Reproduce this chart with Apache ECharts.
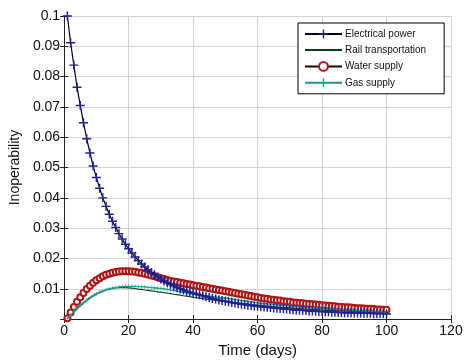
<!DOCTYPE html>
<html><head><meta charset="utf-8">
<script src="https://cdn.jsdelivr.net/npm/echarts@6/dist/echarts.min.js"></script>
<style>html,body{margin:0;padding:0;background:#fff}#c{width:474px;height:363px}</style>
</head><body><div id="c"></div>
<script>
const days = [];
for (let d = 1; d <= 100; d++) days.push(d);
const xTicks = [0, 20, 40, 60, 80, 100, 120];
const yTicks = [0.01, 0.02, 0.03, 0.04, 0.05, 0.06, 0.07, 0.08, 0.09, 0.1];
const seriesNames = ['Electrical power', 'Rail transportation', 'Water supply', 'Gas supply'];

const electrical = [0.1,0.0912,0.0838,0.0765,0.0705,0.0648,0.0595,0.0548,0.0505,0.0467,
0.0432,0.0400,0.0372,0.0346,0.0323,0.0302,0.0282,0.0264,0.0247,0.0232,
0.0218,0.0205,0.0193,0.0182,0.0172,0.0163,0.0154,0.0146,0.0139,0.0132,
0.0126,0.0120,0.0114,0.0109,0.0104,0.0100,0.0096,0.0092,0.0089,0.0086,
0.0083,0.0080,0.0077,0.0074,0.0071,0.0068,0.0066,0.0063,0.0061,0.0059,
0.0057,0.0055,0.0053,0.0051,0.0049,0.0048,0.0046,0.0045,0.0043,0.0042,
0.0041,0.0040,0.0039,0.0038,0.0037,0.0036,0.0035,0.0034,0.0033,0.0032,
0.0031,0.0030,0.0029,0.0029,0.0028,0.0027,0.0027,0.0026,0.0025,0.0025,
0.0024,0.0024,0.0023,0.0023,0.0022,0.0022,0.0021,0.0021,0.0021,0.0020,
0.0020,0.0020,0.0019,0.0019,0.0019,0.0018,0.0018,0.0018,0.0018,0.0017];

const rail = [0.0002,0.0012,0.0023,0.0034,0.0044,0.0053,0.0061,0.0069,0.0076,0.0082,
0.0087,0.0092,0.0096,0.0099,0.0101,0.0103,0.0104,0.0104,0.0104,0.0103,
0.0102,0.0101,0.0099,0.0098,0.0096,0.0095,0.0093,0.0092,0.0090,0.0089,
0.0087,0.0086,0.0084,0.0082,0.0081,0.0079,0.0077,0.0076,0.0074,0.0072,
0.0071,0.0069,0.0068,0.0066,0.0065,0.0063,0.0062,0.0061,0.0059,0.0058,
0.0057,0.0055,0.0054,0.0053,0.0052,0.0051,0.0050,0.0048,0.0047,0.0046,
0.0045,0.0044,0.0043,0.0042,0.0041,0.0040,0.0039,0.0039,0.0038,0.0037,
0.0036,0.0035,0.0035,0.0034,0.0033,0.0033,0.0032,0.0031,0.0031,0.0030,
0.0029,0.0029,0.0028,0.0028,0.0027,0.0027,0.0026,0.0026,0.0025,0.0025,
0.0024,0.0024,0.0024,0.0023,0.0023,0.0022,0.0022,0.0022,0.0021,0.0021];

const water = [0.0003,0.0022,0.0040,0.0057,0.0072,0.0086,0.0099,0.0110,0.0120,0.0128,
0.0135,0.0141,0.0146,0.0150,0.0153,0.0155,0.0157,0.0158,0.0158,0.0158,
0.0157,0.0156,0.0154,0.0152,0.0150,0.0147,0.0144,0.0141,0.0138,0.0135,
0.0132,0.0129,0.0126,0.0124,0.0122,0.0120,0.0118,0.0116,0.0114,0.0112,
0.0110,0.0108,0.0106,0.0104,0.0102,0.0100,0.0098,0.0096,0.0094,0.0092,
0.0090,0.0088,0.0086,0.0084,0.0082,0.0080,0.0078,0.0076,0.0074,0.0072,
0.0070,0.0068,0.0067,0.0065,0.0064,0.0062,0.0061,0.0059,0.0058,0.0057,
0.0055,0.0054,0.0053,0.0052,0.0051,0.0050,0.0049,0.0048,0.0047,0.0046,
0.0045,0.0044,0.0043,0.0042,0.0041,0.0040,0.0039,0.0039,0.0038,0.0037,
0.0036,0.0036,0.0035,0.0034,0.0034,0.0033,0.0032,0.0032,0.0031,0.0031];

const gas = [0.0002,0.0013,0.0025,0.0036,0.0046,0.0055,0.0063,0.0071,0.0078,0.0084,
0.0089,0.0093,0.0097,0.0100,0.0102,0.0104,0.0106,0.0107,0.0108,0.0108,
0.0108,0.0108,0.0107,0.0107,0.0106,0.0105,0.0104,0.0103,0.0102,0.0101,
0.0100,0.0098,0.0096,0.0094,0.0092,0.0090,0.0088,0.0086,0.0084,0.0082,
0.0081,0.0080,0.0078,0.0077,0.0076,0.0074,0.0073,0.0071,0.0070,0.0069,
0.0068,0.0066,0.0065,0.0063,0.0062,0.0060,0.0059,0.0057,0.0055,0.0054,
0.0052,0.0051,0.0050,0.0049,0.0048,0.0047,0.0046,0.0045,0.0044,0.0043,
0.0042,0.0041,0.0040,0.0039,0.0039,0.0038,0.0037,0.0037,0.0036,0.0035,
0.0035,0.0034,0.0033,0.0033,0.0032,0.0031,0.0031,0.0030,0.0030,0.0029,
0.0028,0.0028,0.0027,0.0027,0.0026,0.0026,0.0025,0.0025,0.0024,0.0024];

function pairs(vals) { return vals.map((v, i) => [days[i], v]); }

const starPath = 'path://M-0.8,-5 L0.8,-5 L0.8,-0.8 L5,-0.8 L5,0.8 L0.8,0.8 L0.8,5 L-0.8,5 L-0.8,0.8 L-5,0.8 L-5,-0.8 L-0.8,-0.8 Z';
const FONT = 'Liberation Sans, Arial, sans-serif';

const chart = echarts.init(document.getElementById('c'), null, {renderer: 'canvas'});
const axisLineStyle = {color: '#222', width: 1};
chart.setOption({
  animation: false,
  backgroundColor: '#fff',
  grid: {left: 58, right: 23, top: 16, bottom: 39, containLabel: false},
  legend: {
    orient: 'vertical', left: 298, top: 23,
    data: [
      {name: seriesNames[0]},
      {name: seriesNames[1], itemStyle: {opacity: 0}},
      {name: seriesNames[2]},
      {name: seriesNames[3]}
    ],
    backgroundColor: '#fff', borderColor: '#000', borderWidth: 1,
    padding: [6, 18, 6, 6], itemGap: 6, itemWidth: 37, itemHeight: 11,
    textStyle: {fontFamily: FONT, fontSize: 10, color: '#111', padding: [0, 0, 0, -2]}
  },
  xAxis: [{
    type: 'value', min: 0, max: 120, interval: 20, position: 'bottom',
    name: 'Time (days)', nameLocation: 'middle', nameGap: 21,
    nameTextStyle: {fontFamily: FONT, fontSize: 15, color: '#111'},
    axisLine: {lineStyle: axisLineStyle},
    axisTick: {inside: true, length: 4, lineStyle: axisLineStyle},
    axisLabel: {fontFamily: FONT, fontSize: 14, color: '#111', margin: 5,
      formatter: v => xTicks.includes(v) ? String(v) : ''},
    splitLine: {show: true, lineStyle: {color: '#d4d4d4', width: 1}}
  }, {
    type: 'value', min: 0, max: 120, interval: 20, position: 'top',
    axisLine: {lineStyle: axisLineStyle},
    axisTick: {inside: true, length: 4, lineStyle: axisLineStyle},
    axisLabel: {show: false}, splitLine: {show: false}
  }],
  yAxis: [{
    type: 'value', min: 0, max: 0.1, interval: 0.01, position: 'left',
    name: 'Inoperability', nameLocation: 'middle', nameGap: 39, nameRotate: 90,
    nameTextStyle: {fontFamily: FONT, fontSize: 14, color: '#111'},
    axisLine: {lineStyle: axisLineStyle},
    axisTick: {inside: true, length: 4, lineStyle: axisLineStyle},
    axisLabel: {fontFamily: FONT, fontSize: 14, color: '#111', margin: 4,
      formatter: v => {
        const r = Math.round(v * 100) / 100;
        return yTicks.includes(r) ? String(r) : '';
      }},
    splitLine: {show: true, lineStyle: {color: '#d4d4d4', width: 1}}
  }, {
    type: 'value', min: 0, max: 0.1, interval: 0.01, position: 'right',
    axisLine: {show: true, lineStyle: axisLineStyle},
    axisTick: {show: true, inside: true, length: 4, lineStyle: axisLineStyle},
    axisLabel: {show: false}, splitLine: {show: false}
  }],
  series: [
    {
      name: seriesNames[0], type: 'line', data: pairs(electrical), z: 5,
      symbol: starPath, symbolSize: 9, showAllSymbol: true,
      lineStyle: {color: '#000020', width: 1.2},
      itemStyle: {color: '#1c2290'}
    },
    {
      name: seriesNames[1], type: 'line', data: pairs(rail), z: 2,
      symbol: 'none',
      lineStyle: {color: '#0d3d1d', width: 1.2},
      itemStyle: {color: '#0d3d1d'}
    },
    {
      name: seriesNames[2], type: 'line', data: pairs(water), z: 3,
      symbol: 'emptyCircle', symbolSize: 6, showAllSymbol: true,
      lineStyle: {color: '#2a0000', width: 1},
      itemStyle: {color: '#b01414', borderColor: '#b01414', borderWidth: 0.8}
    },
    {
      name: seriesNames[3], type: 'line', data: pairs(gas), z: 4,
      symbol: starPath, symbolSize: 4, showAllSymbol: true,
      lineStyle: {color: '#2a8f86', width: 1.2},
      itemStyle: {color: '#1aa8a0'}
    }
  ]
});
</script></body></html>
